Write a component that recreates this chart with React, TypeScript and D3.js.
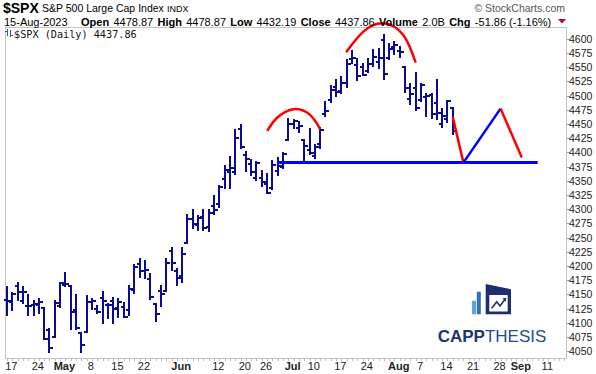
import React, { useEffect, useRef } from 'react';
import * as d3 from 'd3';

// S&P 500 daily bars, Apr 14 - Aug 15 2023
const days = [
  'Apr 14', 'Apr 17', 'Apr 18', 'Apr 19', 'Apr 20', 'Apr 21', 'Apr 24', 'Apr 25', 'Apr 26', 'Apr 27', 'Apr 28',
  'May 1', 'May 2', 'May 3', 'May 4', 'May 5', 'May 8', 'May 9', 'May 10', 'May 11', 'May 12', 'May 15', 'May 16',
  'May 17', 'May 18', 'May 19', 'May 22', 'May 23', 'May 24', 'May 25', 'May 26', 'May 30', 'May 31',
  'Jun 1', 'Jun 2', 'Jun 5', 'Jun 6', 'Jun 7', 'Jun 8', 'Jun 9', 'Jun 12', 'Jun 13', 'Jun 14', 'Jun 15', 'Jun 16',
  'Jun 20', 'Jun 21', 'Jun 22', 'Jun 23', 'Jun 26', 'Jun 27', 'Jun 28', 'Jun 29', 'Jun 30',
  'Jul 3', 'Jul 5', 'Jul 6', 'Jul 7', 'Jul 10', 'Jul 11', 'Jul 12', 'Jul 13', 'Jul 14', 'Jul 17', 'Jul 18', 'Jul 19',
  'Jul 20', 'Jul 21', 'Jul 24', 'Jul 25', 'Jul 26', 'Jul 27', 'Jul 28', 'Jul 31',
  'Aug 1', 'Aug 2', 'Aug 3', 'Aug 4', 'Aug 7', 'Aug 8', 'Aug 9', 'Aug 10', 'Aug 11', 'Aug 14', 'Aug 15',
];

const opens = [
  4140.11, 4137.17, 4164.26, 4139.33, 4130.48, 4132.14, 4132.07, 4126.43, 4087.78, 4075.29, 4129.63,
  4166.79, 4164.10, 4122.25, 4082.61, 4084.73, 4136.98, 4124.25, 4143.74, 4132.24, 4138.54, 4126.65, 4127.95,
  4122.85, 4157.68, 4204.15, 4190.78, 4176.80, 4132.96, 4155.71, 4156.16, 4226.71, 4190.74,
  4183.03, 4241.01, 4282.99, 4271.34, 4285.47, 4268.69, 4304.88, 4308.32, 4352.61, 4366.29, 4365.33, 4440.95,
  4396.11, 4380.01, 4355.40, 4354.17, 4344.84, 4337.36, 4367.48, 4374.94, 4422.44,
  4450.48, 4442.04, 4422.62, 4404.54, 4394.23, 4415.55, 4467.69, 4491.50, 4514.61, 4508.86, 4521.78, 4563.87,
  4554.38, 4550.16, 4543.39, 4555.19, 4558.96, 4598.26, 4565.75, 4584.82,
  4578.83, 4550.93, 4494.27, 4513.96, 4491.58, 4498.03, 4501.57, 4487.16, 4450.69, 4458.13, 4478.87,
];

const highs = [
  4163.19, 4151.72, 4169.48, 4162.57, 4148.57, 4138.02, 4142.41, 4126.43, 4089.67, 4138.24, 4170.06,
  4186.92, 4164.10, 4148.30, 4082.61, 4147.02, 4142.30, 4130.35, 4154.28, 4132.80, 4143.74, 4141.25, 4135.54,
  4164.67, 4202.20, 4212.91, 4209.22, 4185.68, 4132.96, 4165.74, 4212.87, 4231.10, 4195.44,
  4232.43, 4290.67, 4299.28, 4288.33, 4299.19, 4298.01, 4322.62, 4340.13, 4375.37, 4391.82, 4439.20, 4448.47,
  4400.15, 4386.22, 4382.25, 4366.55, 4362.06, 4384.42, 4390.35, 4398.39, 4458.48,
  4456.46, 4454.06, 4422.62, 4440.39, 4412.60, 4443.64, 4488.34, 4517.38, 4527.76, 4532.85, 4562.30, 4578.43,
  4564.74, 4555.00, 4563.41, 4580.62, 4582.47, 4607.07, 4590.16, 4594.22,
  4584.62, 4550.93, 4519.49, 4540.34, 4519.84, 4503.31, 4502.44, 4527.37, 4476.23, 4490.33, 4478.87,
];

const lows = [
  4113.20, 4123.18, 4140.36, 4134.49, 4114.57, 4113.86, 4117.77, 4071.38, 4049.35, 4075.29, 4127.18,
  4164.12, 4089.72, 4088.86, 4048.28, 4084.73, 4123.81, 4116.65, 4098.92, 4109.29, 4099.12, 4110.27, 4109.86,
  4113.62, 4153.14, 4180.20, 4179.68, 4142.54, 4103.98, 4129.73, 4156.16, 4192.18, 4166.15,
  4171.64, 4241.01, 4266.82, 4263.09, 4263.96, 4261.07, 4291.70, 4304.37, 4337.71, 4337.85, 4362.60, 4407.44,
  4367.19, 4360.14, 4351.82, 4341.34, 4328.08, 4335.00, 4360.22, 4371.97, 4422.44,
  4442.29, 4436.61, 4385.05, 4397.40, 4389.92, 4408.46, 4463.23, 4489.36, 4499.56, 4504.90, 4514.59, 4557.48,
  4527.56, 4535.79, 4541.29, 4552.42, 4547.58, 4528.56, 4564.01, 4573.14,
  4567.53, 4505.75, 4485.54, 4474.55, 4491.15, 4464.39, 4461.33, 4457.92, 4443.98, 4453.44, 4432.19,
];

const closes = [
  4137.64, 4151.32, 4154.87, 4154.52, 4129.79, 4133.52, 4137.04, 4071.63, 4055.99, 4135.35, 4169.48,
  4167.87, 4119.58, 4090.75, 4061.22, 4136.25, 4138.12, 4119.17, 4137.64, 4130.62, 4124.08, 4136.28, 4109.90,
  4158.77, 4198.05, 4191.98, 4192.63, 4145.58, 4115.24, 4151.28, 4205.45, 4205.52, 4179.83,
  4221.02, 4282.37, 4273.79, 4283.85, 4267.52, 4293.93, 4298.86, 4338.93, 4369.01, 4372.59, 4425.84, 4409.59,
  4388.71, 4365.69, 4381.89, 4348.33, 4328.82, 4378.41, 4376.86, 4396.44, 4450.38,
  4455.59, 4446.82, 4411.59, 4398.95, 4409.53, 4439.26, 4472.16, 4510.04, 4505.42, 4522.79, 4554.98, 4565.72,
  4534.87, 4536.34, 4554.64, 4567.46, 4566.75, 4537.41, 4582.23, 4588.96,
  4576.73, 4513.39, 4501.89, 4478.03, 4518.44, 4499.38, 4467.71, 4468.83, 4464.05, 4489.72, 4437.86,
];

// axis ticks (trading-day index, label)
const dateTickIdx = [1, 6, 11, 16, 21, 26, 33, 40, 45, 49, 54, 58, 63, 68, 74, 78, 83, 88, 93, 97, 102];
const dateTickLabels = ['17', '24', 'May', '8', '15', '22', 'Jun', '12', '20', '26', 'Jul', '10', '17', '24', 'Aug', '7', '14', '21', '28', 'Sep', '11'];
const monthLabels = ['May', 'Jun', 'Jul', 'Aug', 'Sep'];
const priceTicks = [4050, 4075, 4100, 4125, 4150, 4175, 4200, 4225, 4250, 4275, 4300, 4325, 4350, 4375, 4400, 4425, 4450, 4475, 4500, 4525, 4550, 4575, 4600];

// drawn annotations, in (trading-day index, price)
const neckline: [number, number][] = [[51, 4382], [100, 4382]];
const leftShoulder: [number, number][] = [[49.05, 4438], [50.8, 4460], [53.95, 4476], [57.1, 4466], [59.0, 4441]];
const headArc: [number, number][] = [[63.9, 4576], [67.1, 4612], [70.9, 4627], [74.7, 4606], [77.0, 4558]];
const dropLeg: [number, number][] = [[84, 4462], [86, 4382]];
const bounceLeg: [number, number][] = [[86, 4382], [93, 4477]];
const finalLeg: [number, number][] = [[93, 4477], [97, 4391]];

// quote line: label / value pairs
const quoteLabels = ['Open', 'High', 'Low', 'Close', 'Volume', 'Chg'];
const quoteValues = ['4478.87', '4478.87', '4432.19', '4437.86', '2.0B', '-51.86 (-1.16%)'];

const FONT = 'Arial, "Liberation Sans", sans-serif';
const BAR = '#0a0a99';

const App: React.FC = () => {
  const svgRef = useRef<SVGSVGElement | null>(null);

  useEffect(() => {
    const svg = d3.select(svgRef.current);
    svg.selectAll('*').remove();

    const left = 5, right = 566, top = 27, bottom = 358;

    const x = d3.scaleLinear().domain([0, days.length - 1]).range([7, 452.8]);
    const y = d3.scaleLinear().domain([4050, 4600]).range([351.3, 38.7]);

    svg.append('rect').attr('width', 596).attr('height', 374).attr('fill', '#fff');

    // frame
    svg.append('rect')
      .attr('x', left + 0.5).attr('y', top + 0.5)
      .attr('width', right - left).attr('height', bottom - top)
      .attr('fill', 'none').attr('stroke', '#c4c4c4');

    // daily minor ticks along bottom
    const minor = d3.range(0, 106);
    svg.append('g').selectAll('line').data(minor).join('line')
      .attr('x1', (d) => Math.round(x(d)) + 0.5).attr('x2', (d) => Math.round(x(d)) + 0.5)
      .attr('y1', bottom + 1).attr('y2', bottom + 3)
      .attr('stroke', '#bbb');

    // date labels
    svg.append('g').selectAll('text').data(dateTickIdx).join('text')
      .attr('x', (d) => x(d) - 1).attr('y', 370)
      .attr('text-anchor', 'middle')
      .attr('font-family', FONT).attr('font-size', 11)
      .attr('font-weight', (d, i) => (monthLabels.includes(dateTickLabels[i]) ? 'bold' : 'normal'))
      .attr('fill', '#222')
      .text((d, i) => dateTickLabels[i]);

    // price axis
    const yAxis = svg.append('g');
    yAxis.selectAll('line').data(priceTicks).join('line')
      .attr('x1', right + 1).attr('x2', right + 4)
      .attr('y1', (d) => Math.round(y(d)) + 0.5).attr('y2', (d) => Math.round(y(d)) + 0.5)
      .attr('stroke', '#999');
    yAxis.selectAll('text').data(priceTicks).join('text')
      .attr('x', right + 3).attr('y', (d) => y(d) + 4)
      .attr('font-family', FONT).attr('font-size', 10.5)
      .attr('fill', '#222')
      .text((d) => d);

    // OHLC bars
    const bars = svg.append('g').attr('stroke', BAR).attr('stroke-width', 2);
    days.forEach((_, i) => {
      const cx = Math.round(x(i));
      bars.append('line').attr('x1', cx).attr('x2', cx)
        .attr('y1', Math.round(y(highs[i])) - 1).attr('y2', Math.round(y(lows[i])) + 1);
      bars.append('line').attr('x1', cx - 3).attr('x2', cx)
        .attr('y1', Math.round(y(opens[i]))).attr('y2', Math.round(y(opens[i])));
      bars.append('line').attr('x1', cx).attr('x2', cx + 4)
        .attr('y1', Math.round(y(closes[i]))).attr('y2', Math.round(y(closes[i])));
    });

    // annotations
    const straight = d3.line<[number, number]>().x((d) => x(d[0])).y((d) => y(d[1]));
    const curved = d3.line<[number, number]>().x((d) => x(d[0])).y((d) => y(d[1])).curve(d3.curveNatural);

    svg.append('path').attr('d', straight(neckline)).attr('stroke', '#0000ff').attr('stroke-width', 3).attr('fill', 'none');
    svg.append('path').attr('d', curved(leftShoulder)).attr('stroke', '#ff0000').attr('stroke-width', 2.5).attr('fill', 'none');
    svg.append('path').attr('d', curved(headArc)).attr('stroke', '#ff0000').attr('stroke-width', 2.5).attr('fill', 'none');
    svg.append('path').attr('d', straight(dropLeg)).attr('stroke', '#ff0000').attr('stroke-width', 2.5).attr('fill', 'none');
    svg.append('path').attr('d', straight(bounceLeg)).attr('stroke', '#0000ff').attr('stroke-width', 2.5).attr('fill', 'none');
    svg.append('path').attr('d', straight(finalLeg)).attr('stroke', '#ff0000').attr('stroke-width', 2.5).attr('fill', 'none');

    // title
    svg.append('text').attr('x', 3).attr('y', 12.5).attr('font-family', FONT)
      .attr('font-size', 14).attr('font-weight', 'bold').attr('fill', '#000').text('$SPX');
    svg.append('text').attr('x', 42).attr('y', 12).attr('font-family', FONT).attr('font-size', 10.5).text('S&P 500 Large Cap Index');
    svg.append('text').attr('x', 167).attr('y', 12).attr('font-family', FONT).attr('font-size', 9).text('INDX');
    svg.append('text').attr('x', 565).attr('y', 12).attr('text-anchor', 'end')
      .attr('font-family', FONT).attr('font-size', 10.5).attr('fill', '#555').text('\u00a9 StockCharts.com');

    // quote line, laid out left to right
    svg.append('text').attr('x', 4).attr('y', 25.5).attr('font-family', FONT).attr('font-size', 11).text('15-Aug-2023');
    let cursor = 81;
    const gap = 4.3;
    quoteLabels.forEach((lab, i) => {
      const t1 = svg.append('text').attr('x', cursor).attr('y', 25.5).attr('font-family', FONT)
        .attr('font-size', 11).attr('font-weight', 'bold').text(lab);
      cursor += (t1.node() as SVGTextElement).getComputedTextLength() + gap;
      const t2 = svg.append('text').attr('x', cursor).attr('y', 25.5).attr('font-family', FONT)
        .attr('font-size', 11).text(quoteValues[i]);
      cursor += (t2.node() as SVGTextElement).getComputedTextLength() + gap;
    });
    svg.append('path').attr('d', 'M558,19L566,19L562,23.5Z').attr('fill', '#a0103a');

    // legend
    const leg = svg.append('g').attr('stroke', '#3355cc').attr('stroke-width', 1);
    leg.append('line').attr('x1', 7.5).attr('x2', 7.5).attr('y1', 29).attr('y2', 36);
    leg.append('line').attr('x1', 5).attr('x2', 7.5).attr('y1', 31.5).attr('y2', 31.5);
    leg.append('line').attr('x1', 10.5).attr('x2', 10.5).attr('y1', 30).attr('y2', 37);
    leg.append('line').attr('x1', 10.5).attr('x2', 13).attr('y1', 35.5).attr('y2', 35.5);
    svg.append('text').attr('x', 14).attr('y', 37.5)
      .attr('font-family', '"DejaVu Sans Mono", monospace').attr('font-size', 10.2)
      .attr('fill', '#111').text('$SPX (Daily) 4437.86');

    // CAPPTHESIS logo
    const logo = svg.append('g');
    logo.append('rect').attr('x', 472).attr('y', 300.7).attr('width', 4).attr('height', 13.6).attr('fill', '#5fa2de');
    logo.append('rect').attr('x', 476.8).attr('y', 291.7).attr('width', 4).attr('height', 22.6).attr('fill', '#2f6fbe');
    logo.append('path').attr('d', 'M485.7,284L511,289.3L511,314.3L485.7,314.3Z').attr('fill', '#1d2f6e');
    logo.append('rect').attr('x', 489.3).attr('y', 295).attr('width', 18.4).attr('height', 16.5).attr('fill', '#fff');
    logo.append('path').attr('d', 'M491.7,308.3L496.7,301.7L500,306L505,299.3')
      .attr('stroke', '#1d2f6e').attr('stroke-width', 1.6).attr('fill', 'none');
    logo.append('path').attr('d', 'M502.5,298.6L506.2,297.8L505.8,301.6Z').attr('fill', '#1d2f6e');
    const brand = logo.append('text').attr('x', 492).attr('y', 342).attr('text-anchor', 'middle')
      .attr('font-family', FONT).attr('font-size', 17).attr('fill', '#1f3570');
    brand.append('tspan').attr('font-weight', 'bold').text('CAPP');
    brand.append('tspan').attr('fill', '#2b4a8c').text('THESIS');
  }, []);

  return (
    <svg
      ref={svgRef}
      width={596}
      height={374}
      style={{ position: 'absolute', left: 0, top: 0, display: 'block' }}
    />
  );
};

export default App;
